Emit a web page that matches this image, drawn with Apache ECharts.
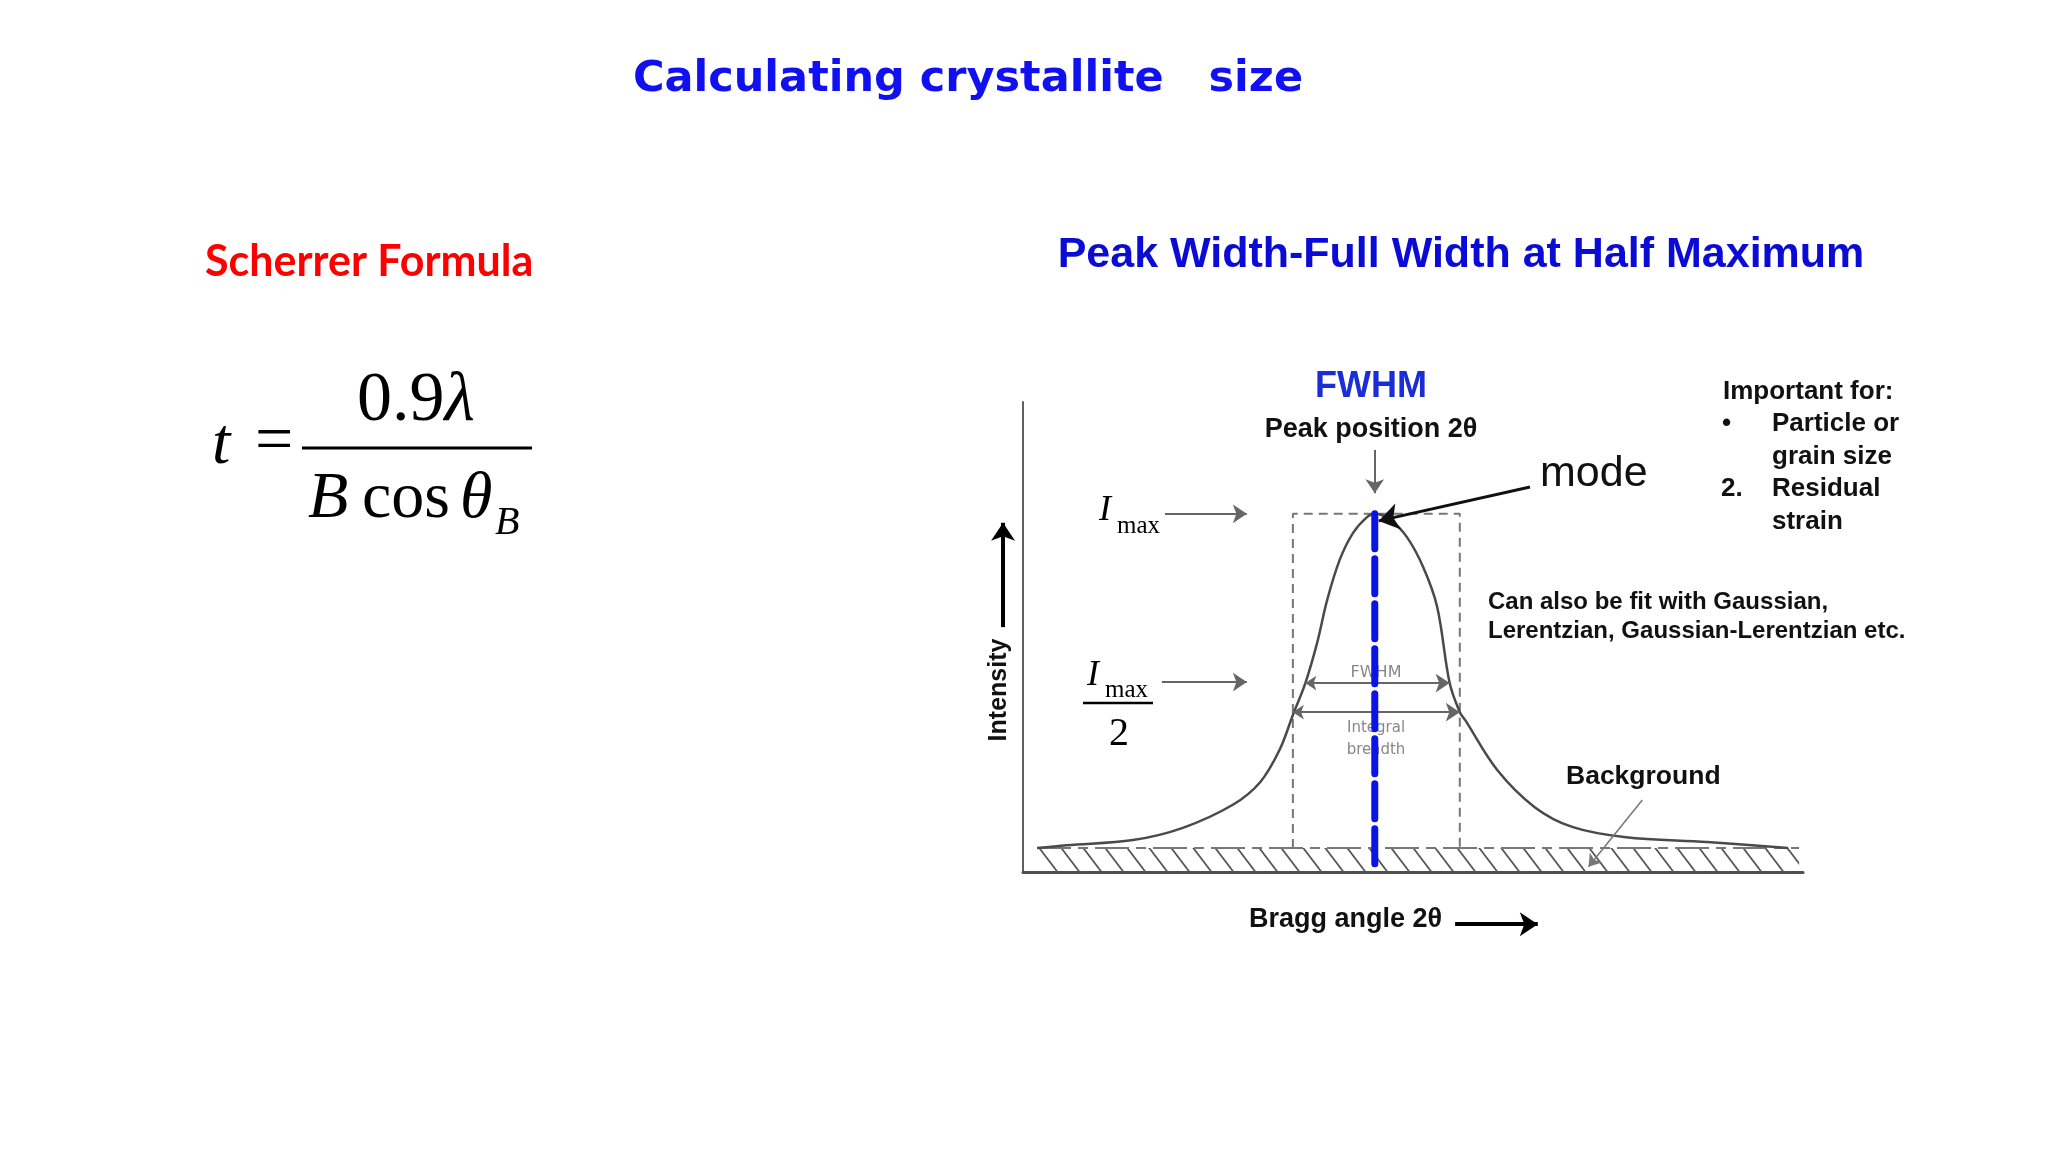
<!DOCTYPE html>
<html>
<head>
<meta charset="utf-8">
<script src="https://cdn.jsdelivr.net/npm/echarts@6/dist/echarts.min.js"></script>
<style>
html,body{margin:0;padding:0;background:#fff;}
#chart{width:2048px;height:1152px;}
</style>
</head>
<body>
<div id="chart"></div>
<script>
// Peak profile (arbitrary 2θ units vs intensity units)
const peakX = [1.8, 5.6, 14.1, 20.5, 26.9, 30.4, 32.9, 34.6, 36.2, 37.7, 39.0, 40.6, 42.3, 44.1, 45.1, 47.1, 49.2, 51.3, 53.1, 54.7, 56.0, 56.7, 60.8, 65.6, 70.4, 77.3, 87.7, 98.1];
const peakY = [5.1, 5.7, 6.8, 9.4, 14.3, 19.1, 26.0, 33.4, 40.2, 48.7, 57.9, 66.4, 72.1, 75.5, 76.2, 74.9, 71.3, 64.9, 56.4, 40.2, 34.0, 32.3, 21.7, 13.8, 9.6, 7.4, 6.4, 5.1];
// Background level (hatched band)
const backgroundX = [1.8, 99.5];
const backgroundLevel = 5.1;
// Key values
const peakPos = 45.1;
const iMax = 76.2;
const halfMax = 40.2;
const fwhmLeft = 36.2, fwhmRight = 54.7;
const integralLeft = 34.6, integralRight = 56.0, integralLevel = 34.0;
// Annotation arrows [x1, y1, x2, y2]
const arrowImax = [18.2, 76.2, 28.7, 76.2];
const arrowHalf = [17.8, 40.4, 28.7, 40.4];
const arrowPeakPos = [45.1, 89.8, 45.1, 80.6];
const arrowMode = [65.0, 81.9, 45.6, 74.7];
const arrowBackground = [79.4, 15.3, 72.5, 1.1];
const arrowIntensity = [-2.56, 52.1, -2.56, 74.3];
const arrowBragg = [55.4, -11.1, 66.0, -11.1];

const chart = echarts.init(document.getElementById('chart'));

// hatch pattern
const pw = 22, ph = 29;
const pc = document.createElement('canvas');
pc.width = pw; pc.height = ph;
const ctx = pc.getContext('2d');
ctx.strokeStyle = '#555';
ctx.lineWidth = 1.7;
for (const dx of [-pw, 0, pw]) {
  ctx.beginPath();
  ctx.moveTo(dx - pw, -ph);
  ctx.lineTo(dx + 2 * pw, 2 * ph);
  ctx.stroke();
}

const curveData = peakX.map((x, i) => [x, peakY[i]]);
const bgData = backgroundX.map(x => [x, backgroundLevel]);
const boxData = [[integralLeft, backgroundLevel], [integralLeft, iMax], [integralRight, iMax], [integralRight, backgroundLevel]];

function seg(a) { return { coords: [[a[0], a[1]], [a[2], a[3]]] }; }
function arrowSeries(list, color, width, sym, size) {
  return {
    type: 'lines', coordinateSystem: 'cartesian2d', clip: false, silent: true,
    symbol: sym, symbolSize: size, z: 5,
    lineStyle: { color: color, width: width, opacity: 1 },
    data: list.map(seg)
  };
}

const sans = 'Liberation Sans, Arial, sans-serif';
const serif = 'Liberation Serif, Times New Roman, serif';
function txt(x, y, text, font, fill, align, extra) {
  return Object.assign({
    type: 'text', x: x, y: y, silent: true,
    style: { text: text, font: font, fill: fill, align: align || 'left', verticalAlign: 'middle' }
  }, extra || {});
}

const option = {
  animation: false,
  backgroundColor: '#ffffff',
  grid: { left: 1023, top: 402, width: 780, height: 470, containLabel: false },
  xAxis: {
    type: 'value', min: 0, max: 100,
    axisLine: { show: true, onZero: false, lineStyle: { color: '#505050', width: 3 } },
    axisTick: { show: false }, axisLabel: { show: false }, splitLine: { show: false }
  },
  yAxis: {
    type: 'value', min: 0, max: 100,
    axisLine: { show: true, lineStyle: { color: '#606060', width: 2 } },
    axisTick: { show: false }, axisLabel: { show: false }, splitLine: { show: false }
  },
  series: [
    {
      type: 'line', data: bgData, symbol: 'none', silent: true, z: 1,
      lineStyle: { color: '#777', width: 2, type: [34, 7, 10, 7] },
      areaStyle: { color: { image: pc, repeat: 'repeat' }, opacity: 1, origin: 'start' }
    },
    {
      type: 'line', data: boxData, symbol: 'none', silent: true, z: 2,
      lineStyle: { color: '#777', width: 2, type: [9, 6] }
    },
    {
      type: 'line', data: curveData, symbol: 'none', smooth: 0.35, silent: true, z: 3,
      lineStyle: { color: '#4a4a4a', width: 2.5 }
    },
    arrowSeries([[fwhmLeft, halfMax, fwhmRight, halfMax], [integralLeft, integralLevel, integralRight, integralLevel]], '#666', 2, ['arrow', 'arrow'], [11, 14]),
    arrowSeries([arrowImax, arrowHalf, arrowPeakPos], '#666', 2, ['none', 'arrow'], [11, 14]),
    arrowSeries([arrowBackground], '#777', 1.5, ['none', 'arrow'], [9, 12]),
    arrowSeries([arrowMode], '#111', 3, ['none', 'arrow'], [16, 20]),
    arrowSeries([arrowIntensity, arrowBragg], '#000', 4, ['none', 'arrow'], [16, 18]),
    {
      type: 'line', data: [[peakPos, iMax], [peakPos, 0]], symbol: 'none', silent: true, z: 6,
      lineStyle: { color: '#0a14e6', width: 7, type: [35, 10], cap: 'round' }
    }
  ],
  graphic: [
    txt(968, 80, 'Calculating crystallite   size', 'bold 43px "Comic Sans MS", "DejaVu Sans", sans-serif', '#1010f0', 'center'),
    txt(205, 262, 'Scherrer Formula', 'bold 43px Lato, sans-serif', '#ff0000'),
    // formula
    txt(212, 446, 't', 'italic 66px ' + serif, '#000'),
    txt(255, 443, '=', '68px ' + serif, '#000'),
    { type: 'line', silent: true, shape: { x1: 302, y1: 448, x2: 532, y2: 448 }, style: { stroke: '#000', lineWidth: 3 } },
    { type: 'text', x: 416, y: 402, silent: true, style: { text: '{r|0.9}{i|λ}', align: 'center', verticalAlign: 'middle',
        rich: { r: { font: '70px ' + serif, fill: '#000' }, i: { font: 'italic 70px ' + serif, fill: '#000' } } } },
    txt(308, 500, 'B', 'italic 66px ' + serif, '#000'),
    txt(362, 500, 'cos', '66px ' + serif, '#000'),
    txt(460, 500, 'θ', 'italic 66px ' + serif, '#000'),
    txt(495, 523, 'B', 'italic 40px ' + serif, '#000'),
    // right heading
    txt(1461, 255, 'Peak Width-Full Width at Half Maximum', 'bold 43px ' + sans, '#0b0bd6', 'center'),
    txt(1371, 387, 'FWHM', 'bold 36px ' + sans, '#1a2ed8', 'center'),
    txt(1371, 430, 'Peak position 2θ', 'bold 27px ' + sans, '#111', 'center'),
    txt(1540, 474, 'mode', '43px ' + sans, '#111'),
    txt(1723, 392, 'Important for:', 'bold 26px ' + sans, '#111'),
    txt(1722, 424, '•', 'bold 26px ' + sans, '#111'),
    txt(1772, 424, 'Particle or', 'bold 26px ' + sans, '#111'),
    txt(1772, 457, 'grain size', 'bold 26px ' + sans, '#111'),
    txt(1721, 489, '2.', 'bold 26px ' + sans, '#111'),
    txt(1772, 489, 'Residual', 'bold 26px ' + sans, '#111'),
    txt(1772, 522, 'strain', 'bold 26px ' + sans, '#111'),
    txt(1488, 602, 'Can also be fit with Gaussian,', 'bold 24px ' + sans, '#111'),
    txt(1488, 631, 'Lerentzian, Gaussian-Lerentzian etc.', 'bold 24px ' + sans, '#111'),
    txt(1566, 777, 'Background', 'bold 26.5px ' + sans, '#111'),
    txt(1249, 920, 'Bragg angle 2θ', 'bold 27px ' + sans, '#111'),
    txt(0, 0, 'Intensity', 'bold 25px ' + sans, '#111', 'center', { x: 999, y: 690, rotation: Math.PI / 2 }),
    // small in-plot labels
    txt(1376, 673, 'FWHM', '16px "DejaVu Sans", sans-serif', '#888', 'center'),
    txt(1376, 728, 'Integral', '15px "DejaVu Sans", sans-serif', '#888', 'center'),
    txt(1376, 750, 'breadth', '15px "DejaVu Sans", sans-serif', '#888', 'center'),
    // I_max labels
    txt(1099, 511, 'I', 'italic 36px ' + serif, '#000'),
    txt(1117, 526, 'max', '25px ' + serif, '#000'),
    txt(1087, 676, 'I', 'italic 36px ' + serif, '#000'),
    txt(1105, 690, 'max', '25px ' + serif, '#000'),
    { type: 'line', silent: true, shape: { x1: 1083, y1: 703, x2: 1153, y2: 703 }, style: { stroke: '#000', lineWidth: 2.5 } },
    txt(1119, 734, '2', '40px ' + serif, '#000', 'center')
  ]
};
chart.setOption(option);
</script>
</body>
</html>
